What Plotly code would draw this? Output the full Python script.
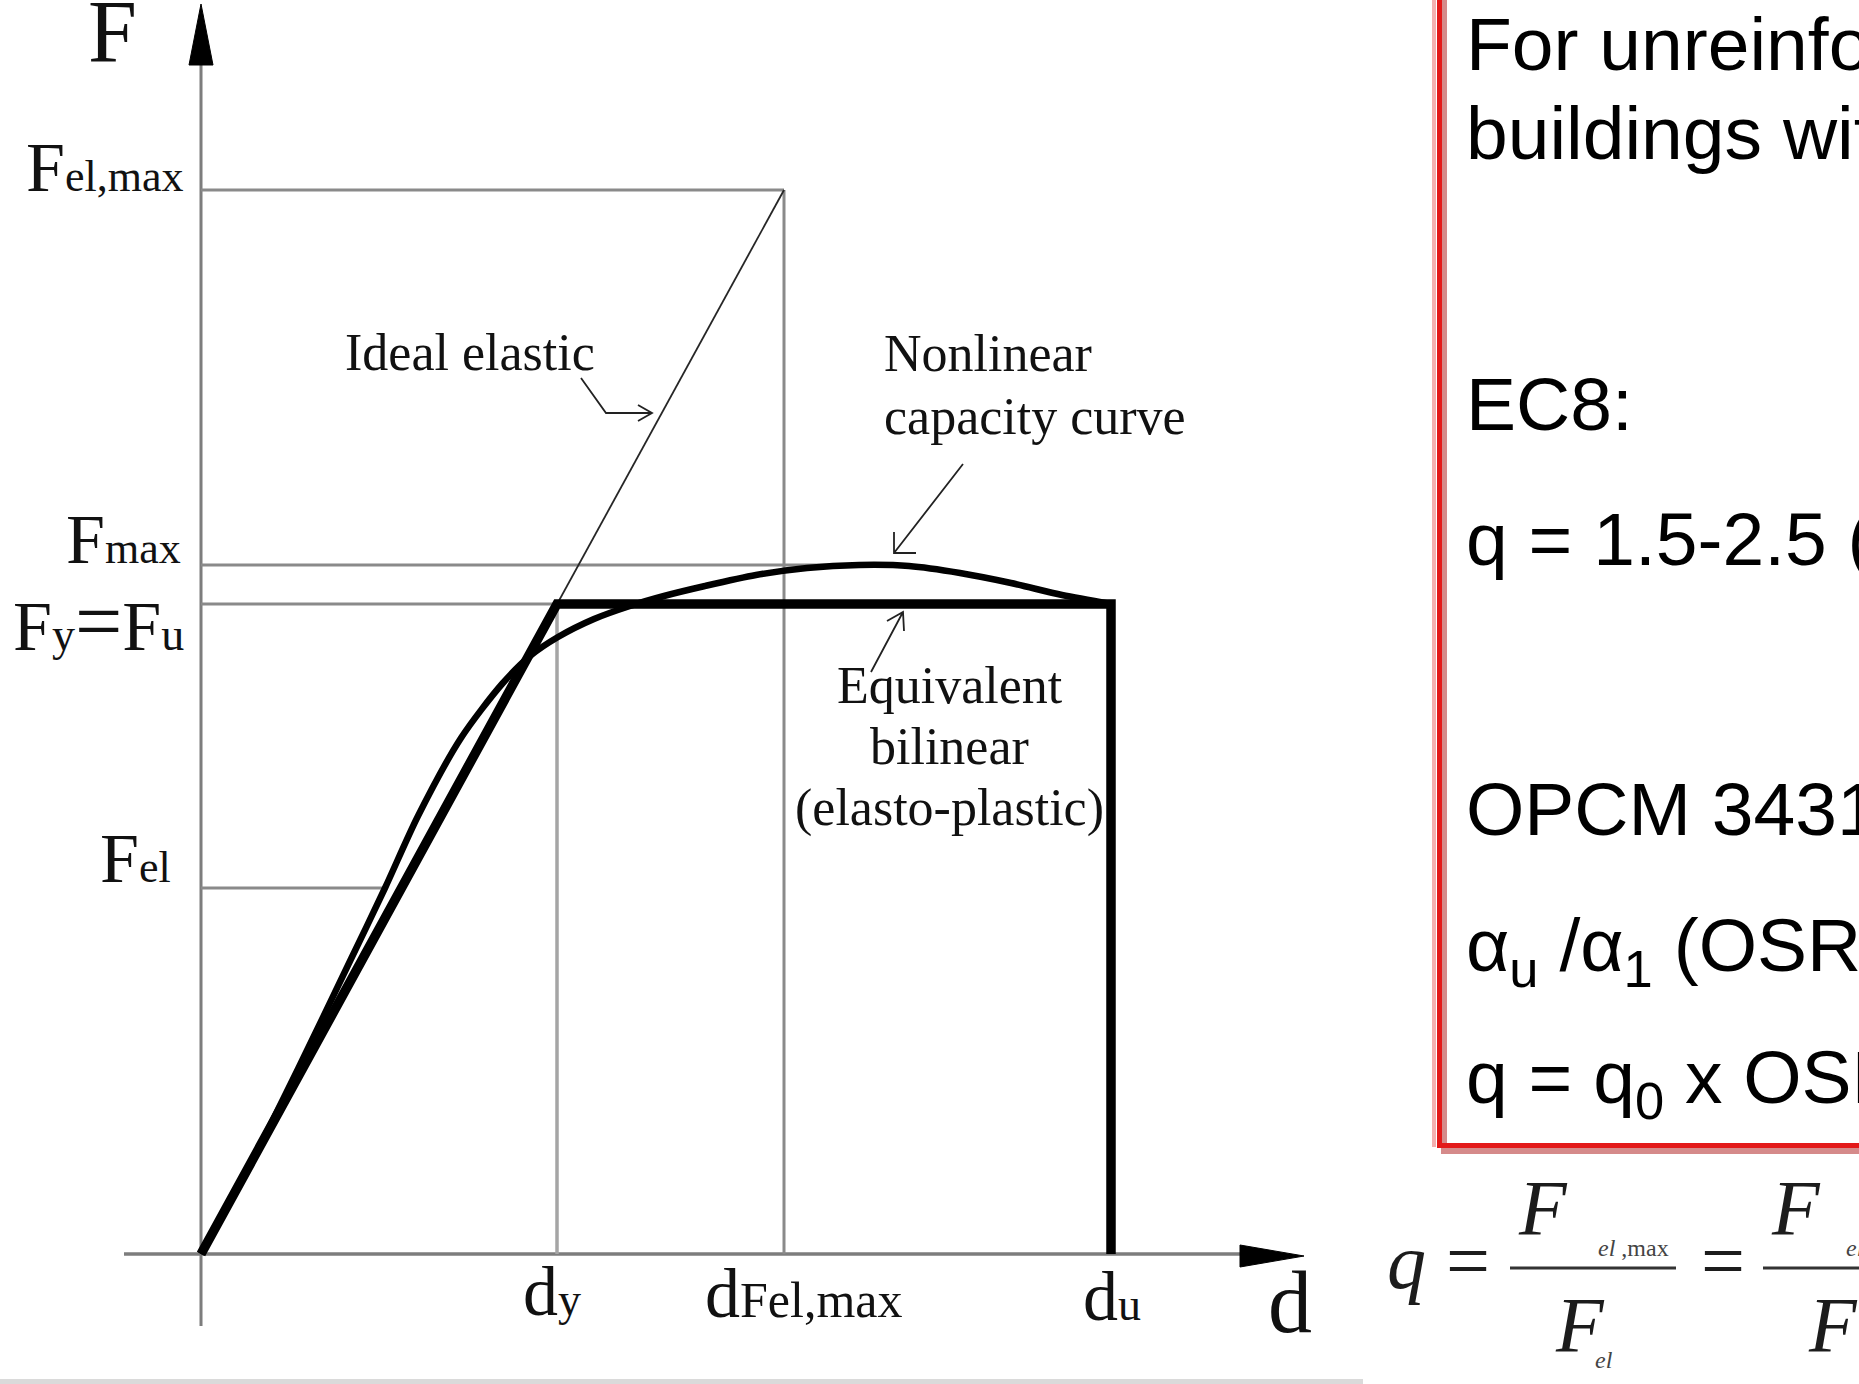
import plotly.graph_objects as go
import numpy as np

# ---------------- data (diagram units) ----------------
d_y = 3.56          # yield displacement
d_fel_max = 5.83    # displacement of ideal elastic max force
d_u = 9.10          # ultimate displacement
F_el_max = 10.64
F_max = 6.89
F_y = 6.50          # = F_u
F_el = 3.66

# nonlinear capacity curve
curve_d = [0, 0.51, 0.97, 1.50, 1.84, 2.17, 2.60, 3.01, 3.29, 3.57, 3.93, 4.29,
           4.63, 5.04, 5.55, 6.06, 6.58, 7.08, 7.59, 8.10, 8.61, 9.10]
curve_F = [0, 0.93, 1.85, 2.95, 3.66, 4.38, 5.16, 5.70, 5.98, 6.17, 6.35, 6.48,
           6.58, 6.68, 6.79, 6.86, 6.89, 6.88, 6.81, 6.71, 6.59, 6.50]

# equivalent bilinear (elasto-plastic)
bil_d = [0, d_y, d_u, d_u]
bil_F = [0, F_y, F_y, 0]

# tick labels
F_tick_text = ["F<span style='font-size:44px'>el,max</span>",
               "F<span style='font-size:44px'>max</span>",
               "F<span style='font-size:46px'>y</span><span style='font-size:84px'>=</span>F<span style='font-size:46px'>u</span>",
               "F<span style='font-size:44px'>el</span>"]
d_tick_text = ["d<span style='font-size:46px'>y</span>",
               "d<span style='font-size:50px'>Fel,max</span>",
               "d<span style='font-size:46px'>u</span>"]

panel_lines = ["For unreinforced masonry", "buildings with", "EC8:", "q = 1.5-2.5 (",
               "OPCM 3431", "α<sub>u</sub> /α<sub>1</sub> (OSR)", "q = q<sub>0</sub> x OSR"]

# ---------------- layout geometry ----------------
W, H = 1859, 1384
X0, Y0, S = 201, 1254, 100.0   # origin pixel and pixels per unit
SERIF = "Liberation Serif, Times New Roman, serif"
SANS = "Liberation Sans, Arial, sans-serif"


def xd(px):
    return (px - X0) / S


def yd(py):
    return (Y0 - py) / S


def xpx(d):
    return X0 + d * S


def ypx(F):
    return Y0 - F * S


fig = go.Figure()
shapes = []
annotations = []

GREY = "#8a8a8a"


def seg(x0, y0, x1, y1, color=GREY, width=3):
    shapes.append(dict(type="line", xref="x", yref="y", x0=x0, y0=y0, x1=x1, y1=y1,
                       line=dict(color=color, width=width), layer="below"))


# axes
seg(xd(124), 0, xd(1245), 0, "#7d7d7d", 3.5)
seg(0, yd(1326), 0, yd(62), "#7d7d7d", 3)
# axis arrowheads (filled)
shapes.append(dict(type="path", xref="x", yref="y",
                   path=f"M {xd(1240)} {yd(1245)} L {xd(1304)} {yd(1256)} L {xd(1240)} {yd(1267)} Z",
                   fillcolor="black", line=dict(color="black", width=1)))
shapes.append(dict(type="path", xref="x", yref="y",
                   path=f"M {xd(189)} {yd(65)} L {xd(201)} {yd(4)} L {xd(213)} {yd(65)} Z",
                   fillcolor="black", line=dict(color="black", width=1)))

# reference (thin grey) lines
curve_d_at_Fel = float(np.interp(F_el, curve_F[:10], curve_d[:10]))
seg(0, F_el_max, d_fel_max, F_el_max)
seg(d_fel_max, 0, d_fel_max, F_el_max)
seg(0, F_max, curve_d[int(np.argmax(curve_F))], F_max)
seg(0, F_y, d_y, F_y)
seg(d_y, 0, d_y, F_y, "#a5a5a5", 3.5)
seg(0, F_el, curve_d_at_Fel, F_el)

# ideal elastic line
fig.add_trace(go.Scatter(x=[0, d_fel_max], y=[0, F_el_max], mode="lines",
                         line=dict(color="#262626", width=1.8), hoverinfo="skip", showlegend=False))
# nonlinear capacity curve
fig.add_trace(go.Scatter(x=curve_d, y=curve_F, mode="lines",
                         line=dict(color="black", width=6.5, shape="spline", smoothing=0.8),
                         hoverinfo="skip", showlegend=False))
# equivalent bilinear
fig.add_trace(go.Scatter(x=bil_d, y=bil_F, mode="lines",
                         line=dict(color="black", width=9.5), hoverinfo="skip", showlegend=False))


def arrow(pts, head):
    # pts: pixel polyline; head: two pixel points forming an open V at the tip
    tip = pts[-1]
    p = "M " + " L ".join(f"{xd(a)} {yd(b)}" for a, b in pts)
    p += f" M {xd(head[0][0])} {yd(head[0][1])} L {xd(tip[0])} {yd(tip[1])} L {xd(head[1][0])} {yd(head[1][1])}"
    shapes.append(dict(type="path", xref="x", yref="y", path=p,
                       line=dict(color="#222", width=1.8)))


arrow([(581, 378), (606, 413), (652, 413)], [(638, 405), (638, 421)])
arrow([(963, 464), (894, 553)], [(894, 532), (916, 553)])
arrow([(871, 672), (903, 612)], [(887, 621), (904, 631)])


# ---------------- text helpers ----------------
def text(t, x_px, base_px, size, anchor="left", family=SERIF, asc=0.891, color="#111"):
    xs = {"left": -2, "right": 2, "center": 0}[anchor]
    annotations.append(dict(
        x=(x_px + xs) / W, y=1 - (base_px - asc * size - 2) / H, xref="paper", yref="paper",
        xanchor=anchor, yanchor="top", text=t, showarrow=False,
        font=dict(family=family, size=size, color=color)))


# axis titles
text("F", 88, 61, 88)
text("d", 1268, 1332, 88)

# F tick labels (right aligned next to the y axis)
F_levels = [F_el_max, F_max, F_y, F_el]
F_label_right = [183, 181, 184, 171]
F_label_dy = [1, -2, 33, -6]
for lvl, t, r, dy in zip(F_levels, F_tick_text, F_label_right, F_label_dy):
    text(t, r, ypx(lvl) + dy, 70, anchor="right")

# d tick labels
d_levels = [d_y, d_fel_max, d_u]
d_label_dx = [-34, -79, -28]
d_label_base = [1315, 1317, 1320]
for lvl, t, dx, b in zip(d_levels, d_tick_text, d_label_dx, d_label_base):
    text(t, xpx(lvl) + dx, b, 70)

# curve annotations
text("Ideal elastic", 345, 370, 52)
text("Nonlinear", 884, 371, 52)
text("capacity curve", 884, 434, 52)
text("Equivalent", 950, 703, 52, anchor="center")
text("bilinear", 950, 764, 52, anchor="center")
text("(elasto-plastic)", 950, 825, 52, anchor="center")

# ---------------- right panel ----------------
# red framed box (extends past the top and right edges)
shapes.append(dict(type="rect", xref="paper", yref="paper",
                   x0=1444 / W, x1=1.2, y0=1 - 1151 / H, y1=1.1,
                   line=dict(color="#d58a8a", width=6)))
shapes.append(dict(type="line", xref="paper", yref="paper",
                   x0=1434 / W, x1=1434 / W, y0=1 - 1147 / H, y1=1.1,
                   line=dict(color="#f4b0b0", width=4)))
shapes.append(dict(type="rect", xref="paper", yref="paper",
                   x0=1439.5 / W, x1=1.2, y0=1 - 1145.5 / H, y1=1.1,
                   line=dict(color="#e31919", width=5)))

panel_base = [70, 159, 430, 565, 835, 971, 1103]
for t, b in zip(panel_lines, panel_base):
    text(t, 1466, b, 75, family=SANS, asc=0.905, color="black")

# formula q = Fel,max / Fel = ...
FC = "#1c1c1c"
text("<i>q</i>", 1387, 1287, 78, color=FC)
text("=", 1446, 1286, 78, color=FC)
text("=", 1701, 1286, 78, color=FC)
for x0f, x1f in [(1510, 1676), (1763, 1870)]:
    shapes.append(dict(type="line", xref="paper", yref="paper",
                       x0=x0f / W, x1=x1f / W, y0=1 - 1268 / H, y1=1 - 1268 / H,
                       line=dict(color="#333", width=3)))
text("<i>F</i>", 1518, 1233, 78, color=FC)
text("<i>el</i> ,max", 1598, 1256, 24, color="#444")
text("<i>F</i>", 1555, 1350, 78, color=FC)
text("<i>el</i>", 1595, 1368, 24, color="#444")
text("<i>F</i>", 1771, 1233, 78, color=FC)
text("<i>el</i> ,max", 1846, 1256, 24, color="#444")
text("<i>F</i>", 1808, 1350, 78, color=FC)

# thin grey strip at the very bottom
shapes.append(dict(type="rect", xref="paper", yref="paper",
                   x0=0, x1=1363 / W, y0=0, y1=5 / H,
                   fillcolor="#dadada", line=dict(width=0), layer="below"))

fig.update_layout(
    width=W, height=H, autosize=False,
    margin=dict(l=0, r=0, t=0, b=0, pad=0),
    paper_bgcolor="white", plot_bgcolor="white",
    xaxis=dict(range=[xd(0), xd(W)], visible=False, fixedrange=True),
    yaxis=dict(range=[yd(H), yd(0)], visible=False, fixedrange=True),
    shapes=shapes, annotations=annotations, showlegend=False,
)

fig.write_html("out.html", include_plotlyjs=True, full_html=True,
               config={"displayModeBar": False},
               post_script="document.body.style.margin='0';document.body.style.overflow='hidden';")
